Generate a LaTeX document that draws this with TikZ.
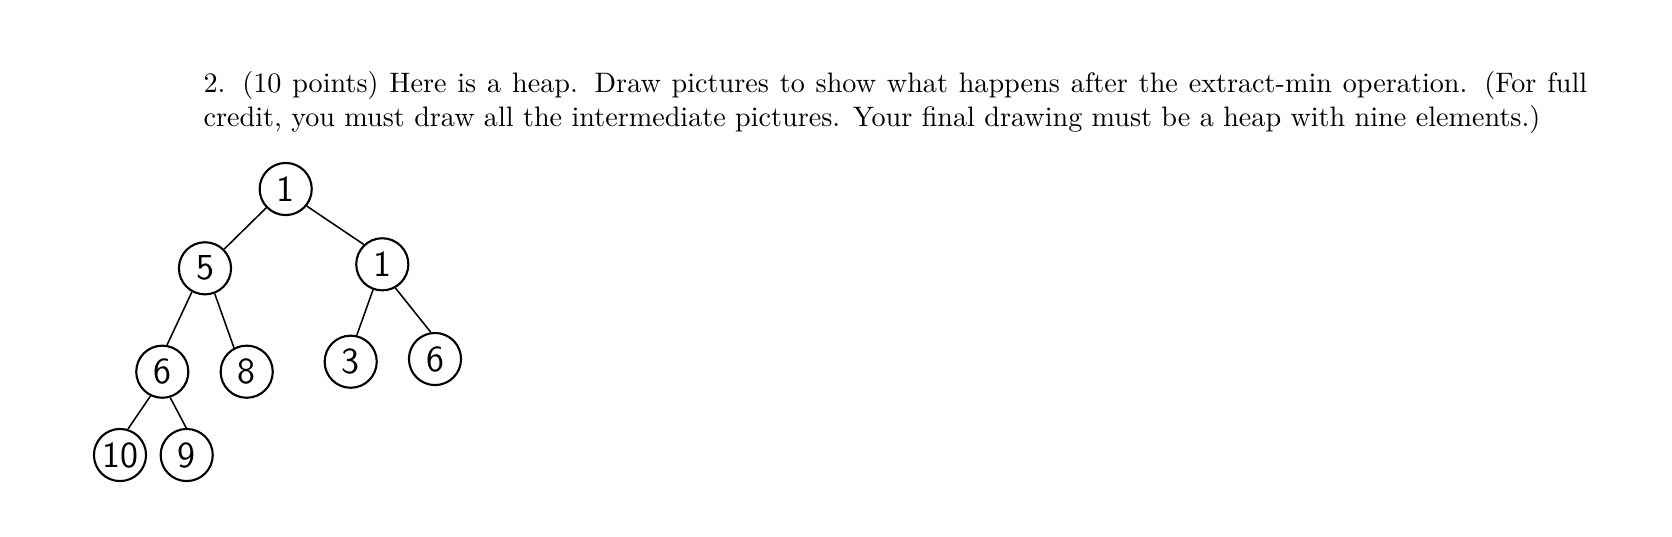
\documentclass[tikz,border=0pt]{standalone}
\usepackage{fontspec}
\tikzset{
  heapnode/.style={circle, draw, line width=0.75pt, minimum size=18.5pt, inner sep=0pt, font=\sffamily\fontsize{13}{15}\selectfont},
  heapedge/.style={line width=0.55pt},
}
\begin{document}
\begin{tikzpicture}[x=0.355pt, y=-0.355pt]
\useasboundingbox (0,0) rectangle (1672,536);
\node[anchor=base west, inner sep=0pt, text width=491.2pt, align=justify, font=\fontsize{10}{11.9}\selectfont] (q) at (203,92.7)
  {\parfillskip=0pt 2. (10 points) Here is a heap. Draw pictures to show what happens after the extract-min operation. (For full\linebreak credit, you must draw all the intermediate pictures. Your final drawing must be a heap with nine elements.)};
\node[heapnode] (r)  at (285.7,189) {1};
\node[heapnode] (a)  at (205,268.3) {5};
\node[heapnode] (b)  at (382.3,264.3) {1};
\node[heapnode] (c)  at (162.3,371.7) {6};
\node[heapnode] (d)  at (246.7,371.7) {8};
\node[heapnode] (e)  at (350.7,361.7) {3};
\node[heapnode] (f)  at (435,359) {6};
\node[heapnode] (g)  at (120,455) {10};
\node[heapnode] (h)  at (186.7,455) {9};
\draw[heapedge] (r.224) -- (a.45);
\draw[heapedge] (r.321) -- (b.133);
\draw[heapedge] (a.241) -- (c.80);
\draw[heapedge] (a.291) -- (d.118);
\draw[heapedge] (b.250) -- (e.77);
\draw[heapedge] (b.299) -- (f.99);
\draw[heapedge] (c.244) -- (g.73);
\draw[heapedge] (c.287) -- (h.91);
\end{tikzpicture}
\end{document}
